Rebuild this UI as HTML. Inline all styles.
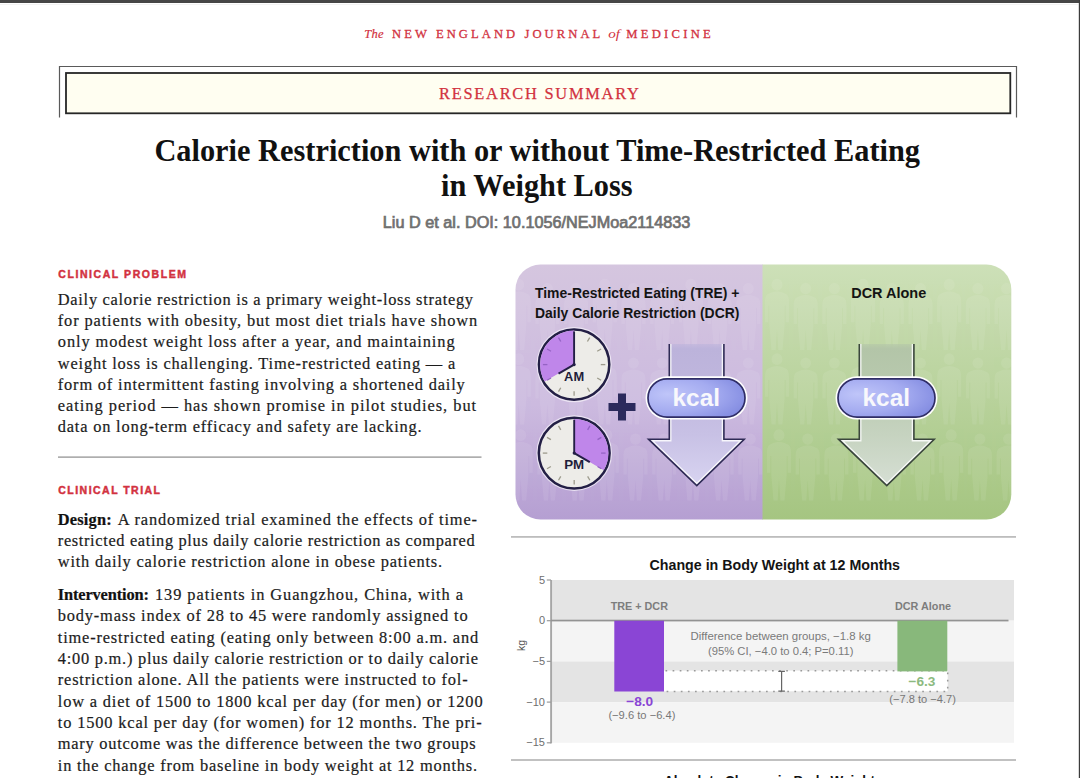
<!DOCTYPE html>
<html><head><meta charset="utf-8"><title>NEJM Research Summary</title>
<style>html,body{margin:0;padding:0;background:#fff;overflow:hidden;width:1080px;height:778px;} svg{display:block;}</style>
</head><body><svg width="1080" height="778" viewBox="0 0 1080 778"><defs><linearGradient id="gp" x1="0" y1="0" x2="0" y2="1">
<stop offset="0" stop-color="#d5c6df"/><stop offset="0.55" stop-color="#ccbadf"/><stop offset="1" stop-color="#b59fd2"/></linearGradient><linearGradient id="gg" x1="0" y1="0" x2="0" y2="1">
<stop offset="0" stop-color="#cde0b8"/><stop offset="1" stop-color="#a5c581"/></linearGradient><g id="person"><ellipse cx="11" cy="6" rx="5" ry="6" fill="#fff"/><path d="M6 14 Q11 12 16 14 L20 16 Q22 18 22 24 L22 44 L19 44 L19 27 L18 27 L18 46 L16 72 L12.3 72 L11 49 L9.7 72 L6 72 L4 46 L4 27 L3 27 L3 44 L0 44 L0 24 Q0 18 2 16 Z" fill="#fff"/></g><clipPath id="panel"><rect x="515.5" y="264.5" width="495.8" height="255" rx="25" ry="25"/></clipPath><radialGradient id="pill" cx="0.3" cy="0.45" r="0.8" fx="0.2" fy="0.4">
<stop offset="0" stop-color="#bfc5f9"/><stop offset="0.55" stop-color="#a4abf0"/><stop offset="1" stop-color="#7f88df"/></radialGradient><linearGradient id="shaftp" gradientUnits="userSpaceOnUse" x1="0" y1="340" x2="0" y2="486">
<stop offset="0" stop-color="#bdb4dc" stop-opacity="0.2"/><stop offset="0.06" stop-color="#bcb3db"/><stop offset="0.3" stop-color="#bfb6dd"/><stop offset="0.65" stop-color="#c8c1e5"/><stop offset="1" stop-color="#d8d4f1"/></linearGradient><linearGradient id="shaftg" gradientUnits="userSpaceOnUse" x1="0" y1="340" x2="0" y2="486">
<stop offset="0" stop-color="#b4c6a9" stop-opacity="0.2"/><stop offset="0.06" stop-color="#b3c5a8"/><stop offset="0.3" stop-color="#b8c9ae"/><stop offset="0.65" stop-color="#c6d3c0"/><stop offset="1" stop-color="#d6dfd4"/></linearGradient></defs><rect x="0" y="0" width="1080" height="778" fill="#ffffff"/><rect x="0" y="0" width="1080" height="3" fill="#464646"/><rect x="0" y="4" width="1078" height="1" fill="#f3f3f3"/><rect x="1078.8" y="0" width="1.2" height="778" fill="#3c3c3c"/><text x="364.2" y="38" font-family="Liberation Serif" font-size="12.5" font-weight="normal" font-style="italic" fill="#d2323f" text-anchor="start" textLength="19.4" lengthAdjust="spacing" stroke="#d2323f" stroke-width="0.2">The</text><text x="392" y="38" font-family="Liberation Serif" font-size="12.6" font-weight="normal" font-style="normal" fill="#d2323f" text-anchor="start" textLength="208.3" lengthAdjust="spacing" stroke="#d2323f" stroke-width="0.3">NEW ENGLAND JOURNAL</text><text x="608.3" y="38" font-family="Liberation Serif" font-size="12.5" font-weight="normal" font-style="italic" fill="#d2323f" text-anchor="start" textLength="11.7" lengthAdjust="spacingAndGlyphs">of</text><text x="626.3" y="38" font-family="Liberation Serif" font-size="12.6" font-weight="normal" font-style="normal" fill="#d2323f" text-anchor="start" textLength="84.5" lengthAdjust="spacing" stroke="#d2323f" stroke-width="0.3">MEDICINE</text><path d="M59.5 117.5 V66.5 H1016.5 V117.5" fill="none" stroke="#5a5a5a" stroke-width="1.2"/><rect x="66" y="73" width="944.3" height="40.3" fill="#fffef1" stroke="#262626" stroke-width="1.8"/><text x="439" y="98.7" font-family="Liberation Serif" font-size="16.4" font-weight="normal" font-style="normal" fill="#d2323f" text-anchor="start" textLength="199.8" lengthAdjust="spacing" stroke="#d2323f" stroke-width="0.25">RESEARCH SUMMARY</text><text x="154.4" y="161" font-family="Liberation Serif" font-size="30.5" font-weight="bold" font-style="normal" fill="#111" text-anchor="start" textLength="765.6" lengthAdjust="spacingAndGlyphs">Calorie Restriction with or without Time-Restricted Eating</text><text x="441" y="195.5" font-family="Liberation Serif" font-size="30.5" font-weight="bold" font-style="normal" fill="#111" text-anchor="start" textLength="191.6" lengthAdjust="spacingAndGlyphs">in Weight Loss</text><text x="382.8" y="227.8" font-family="Liberation Sans" font-size="15.6" font-weight="normal" font-style="normal" fill="#707070" text-anchor="start" textLength="307.5" lengthAdjust="spacingAndGlyphs" stroke="#707070" stroke-width="0.7">Liu D et al. DOI: 10.1056/NEJMoa2114833</text><text x="58.3" y="278.1" font-family="Liberation Sans" font-size="10.5" font-weight="bold" font-style="normal" fill="#d2323f" text-anchor="start" textLength="127.7" lengthAdjust="spacing" stroke="#d2323f" stroke-width="0.45">CLINICAL PROBLEM</text><text x="57.8" y="304.8" font-family="Liberation Serif" font-size="16.4" font-weight="normal" font-style="normal" fill="#1c1c1c" text-anchor="start" textLength="415.2" lengthAdjust="spacing" stroke="#1c1c1c" stroke-width="0.2">Daily calorie restriction is a primary weight-loss strategy</text><text x="57.8" y="326.05" font-family="Liberation Serif" font-size="16.4" font-weight="normal" font-style="normal" fill="#1c1c1c" text-anchor="start" textLength="419.3" lengthAdjust="spacing" stroke="#1c1c1c" stroke-width="0.2">for patients with obesity, but most diet trials have shown</text><text x="57.8" y="347.3" font-family="Liberation Serif" font-size="16.4" font-weight="normal" font-style="normal" fill="#1c1c1c" text-anchor="start" textLength="396.8" lengthAdjust="spacing" stroke="#1c1c1c" stroke-width="0.2">only modest weight loss after a year, and maintaining</text><text x="57.8" y="368.55" font-family="Liberation Serif" font-size="16.4" font-weight="normal" font-style="normal" fill="#1c1c1c" text-anchor="start" textLength="397.4" lengthAdjust="spacing" stroke="#1c1c1c" stroke-width="0.2">weight loss is challenging. Time-restricted eating — a</text><text x="57.8" y="389.8" font-family="Liberation Serif" font-size="16.4" font-weight="normal" font-style="normal" fill="#1c1c1c" text-anchor="start" textLength="407.0" lengthAdjust="spacing" stroke="#1c1c1c" stroke-width="0.2">form of intermittent fasting involving a shortened daily</text><text x="57.8" y="411.05" font-family="Liberation Serif" font-size="16.4" font-weight="normal" font-style="normal" fill="#1c1c1c" text-anchor="start" textLength="418.3" lengthAdjust="spacing" stroke="#1c1c1c" stroke-width="0.2">eating period — has shown promise in pilot studies, but</text><text x="57.8" y="432.3" font-family="Liberation Serif" font-size="16.4" font-weight="normal" font-style="normal" fill="#1c1c1c" text-anchor="start" textLength="363.8" lengthAdjust="spacing" stroke="#1c1c1c" stroke-width="0.2">data on long-term efficacy and safety are lacking.</text><rect x="58" y="456.5" width="423.5" height="1.2" fill="#8c8c8c"/><text x="58.3" y="493.5" font-family="Liberation Sans" font-size="10.5" font-weight="bold" font-style="normal" fill="#d2323f" text-anchor="start" textLength="101.7" lengthAdjust="spacing" stroke="#d2323f" stroke-width="0.45">CLINICAL TRIAL</text><text x="57.8" y="524.6" font-family="Liberation Serif" font-size="16.4" font-weight="bold" font-style="normal" fill="#111" text-anchor="start" textLength="53.9" lengthAdjust="spacing" stroke="#111" stroke-width="0.2">Design:</text><text x="117.8" y="524.6" font-family="Liberation Serif" font-size="16.4" font-weight="normal" font-style="normal" fill="#1c1c1c" text-anchor="start" textLength="359.2" lengthAdjust="spacing" stroke="#1c1c1c" stroke-width="0.2">A randomized trial examined the effects of time-</text><text x="57.8" y="545.9" font-family="Liberation Serif" font-size="16.4" font-weight="normal" font-style="normal" fill="#1c1c1c" text-anchor="start" textLength="416.8" lengthAdjust="spacing" stroke="#1c1c1c" stroke-width="0.2">restricted eating plus daily calorie restriction as compared</text><text x="57.8" y="567.2" font-family="Liberation Serif" font-size="16.4" font-weight="normal" font-style="normal" fill="#1c1c1c" text-anchor="start" textLength="384.2" lengthAdjust="spacing" stroke="#1c1c1c" stroke-width="0.2">with daily calorie restriction alone in obese patients.</text><text x="57.8" y="599.8" font-family="Liberation Serif" font-size="16.4" font-weight="bold" font-style="normal" fill="#111" text-anchor="start" textLength="91.1" lengthAdjust="spacing" stroke="#111" stroke-width="0.2">Intervention:</text><text x="155" y="599.8" font-family="Liberation Serif" font-size="16.4" font-weight="normal" font-style="normal" fill="#1c1c1c" text-anchor="start" textLength="308.0" lengthAdjust="spacing" stroke="#1c1c1c" stroke-width="0.2">139 patients in Guangzhou, China, with a</text><text x="57.8" y="621.15" font-family="Liberation Serif" font-size="16.4" font-weight="normal" font-style="normal" fill="#1c1c1c" text-anchor="start" textLength="409.8" lengthAdjust="spacing" stroke="#1c1c1c" stroke-width="0.2">body-mass index of 28 to 45 were randomly assigned to</text><text x="57.8" y="642.5" font-family="Liberation Serif" font-size="16.4" font-weight="normal" font-style="normal" fill="#1c1c1c" text-anchor="start" textLength="420.3" lengthAdjust="spacing" stroke="#1c1c1c" stroke-width="0.2">time-restricted eating (eating only between 8:00 a.m. and</text><text x="57.8" y="663.85" font-family="Liberation Serif" font-size="16.4" font-weight="normal" font-style="normal" fill="#1c1c1c" text-anchor="start" textLength="420.3" lengthAdjust="spacing" stroke="#1c1c1c" stroke-width="0.2">4:00 p.m.) plus daily calorie restriction or to daily calorie</text><text x="57.8" y="685.2" font-family="Liberation Serif" font-size="16.4" font-weight="normal" font-style="normal" fill="#1c1c1c" text-anchor="start" textLength="409.8" lengthAdjust="spacing" stroke="#1c1c1c" stroke-width="0.2">restriction alone. All the patients were instructed to fol-</text><text x="57.8" y="706.55" font-family="Liberation Serif" font-size="16.4" font-weight="normal" font-style="normal" fill="#1c1c1c" text-anchor="start" textLength="424.8" lengthAdjust="spacing" stroke="#1c1c1c" stroke-width="0.2">low a diet of 1500 to 1800 kcal per day (for men) or 1200</text><text x="57.8" y="727.9" font-family="Liberation Serif" font-size="16.4" font-weight="normal" font-style="normal" fill="#1c1c1c" text-anchor="start" textLength="423.8" lengthAdjust="spacing" stroke="#1c1c1c" stroke-width="0.2">to 1500 kcal per day (for women) for 12 months. The pri-</text><text x="57.8" y="749.25" font-family="Liberation Serif" font-size="16.4" font-weight="normal" font-style="normal" fill="#1c1c1c" text-anchor="start" textLength="417.8" lengthAdjust="spacing" stroke="#1c1c1c" stroke-width="0.2">mary outcome was the difference between the two groups</text><text x="57.8" y="770.6" font-family="Liberation Serif" font-size="16.4" font-weight="normal" font-style="normal" fill="#1c1c1c" text-anchor="start" textLength="419.2" lengthAdjust="spacing" stroke="#1c1c1c" stroke-width="0.2">in the change from baseline in body weight at 12 months.</text><g clip-path="url(#panel)"><rect x="515" y="264" width="248" height="256" fill="url(#gp)"/><rect x="762.5" y="264" width="250" height="256" fill="url(#gg)"/><use href="#person" transform="translate(506.7 278.7) scale(1.09 0.99)" opacity="0.075"/><use href="#person" transform="translate(535.4 283.0) scale(1.09 0.93)" opacity="0.075"/><use href="#person" transform="translate(564.1 283.0) scale(1.09 0.93)" opacity="0.075"/><use href="#person" transform="translate(592.8 278.7) scale(1.09 0.99)" opacity="0.075"/><use href="#person" transform="translate(621.5 283.0) scale(1.09 0.93)" opacity="0.075"/><use href="#person" transform="translate(650.2 283.0) scale(1.09 0.93)" opacity="0.075"/><use href="#person" transform="translate(678.9 278.7) scale(1.09 0.99)" opacity="0.075"/><use href="#person" transform="translate(707.6 283.0) scale(1.09 0.93)" opacity="0.075"/><use href="#person" transform="translate(736.3 283.0) scale(1.09 0.93)" opacity="0.075"/><use href="#person" transform="translate(765.0 278.7) scale(1.09 0.99)" opacity="0.075"/><use href="#person" transform="translate(793.7 283.0) scale(1.09 0.93)" opacity="0.075"/><use href="#person" transform="translate(822.4 283.0) scale(1.09 0.93)" opacity="0.075"/><use href="#person" transform="translate(851.1 278.7) scale(1.09 0.99)" opacity="0.075"/><use href="#person" transform="translate(879.8 283.0) scale(1.09 0.93)" opacity="0.075"/><use href="#person" transform="translate(908.5 283.0) scale(1.09 0.93)" opacity="0.075"/><use href="#person" transform="translate(937.2 278.7) scale(1.09 0.99)" opacity="0.075"/><use href="#person" transform="translate(965.9 283.0) scale(1.09 0.93)" opacity="0.075"/><use href="#person" transform="translate(994.6 283.0) scale(1.09 0.93)" opacity="0.075"/><use href="#person" transform="translate(506.7 353.2) scale(1.09 0.99)" opacity="0.075"/><use href="#person" transform="translate(535.4 357.5) scale(1.09 0.93)" opacity="0.075"/><use href="#person" transform="translate(564.1 357.5) scale(1.09 0.93)" opacity="0.075"/><use href="#person" transform="translate(592.8 353.2) scale(1.09 0.99)" opacity="0.075"/><use href="#person" transform="translate(621.5 357.5) scale(1.09 0.93)" opacity="0.075"/><use href="#person" transform="translate(650.2 357.5) scale(1.09 0.93)" opacity="0.075"/><use href="#person" transform="translate(678.9 353.2) scale(1.09 0.99)" opacity="0.075"/><use href="#person" transform="translate(707.6 357.5) scale(1.09 0.93)" opacity="0.075"/><use href="#person" transform="translate(736.3 357.5) scale(1.09 0.93)" opacity="0.075"/><use href="#person" transform="translate(765.0 353.2) scale(1.09 0.99)" opacity="0.075"/><use href="#person" transform="translate(793.7 357.5) scale(1.09 0.93)" opacity="0.075"/><use href="#person" transform="translate(822.4 357.5) scale(1.09 0.93)" opacity="0.075"/><use href="#person" transform="translate(851.1 353.2) scale(1.09 0.99)" opacity="0.075"/><use href="#person" transform="translate(879.8 357.5) scale(1.09 0.93)" opacity="0.075"/><use href="#person" transform="translate(908.5 357.5) scale(1.09 0.93)" opacity="0.075"/><use href="#person" transform="translate(937.2 353.2) scale(1.09 0.99)" opacity="0.075"/><use href="#person" transform="translate(965.9 357.5) scale(1.09 0.93)" opacity="0.075"/><use href="#person" transform="translate(994.6 357.5) scale(1.09 0.93)" opacity="0.075"/><use href="#person" transform="translate(508.7 429.2) scale(1.09 0.99)" opacity="0.075"/><use href="#person" transform="translate(537.4 433.5) scale(1.09 0.93)" opacity="0.075"/><use href="#person" transform="translate(566.1 433.5) scale(1.09 0.93)" opacity="0.075"/><use href="#person" transform="translate(594.8 429.2) scale(1.09 0.99)" opacity="0.075"/><use href="#person" transform="translate(623.5 433.5) scale(1.09 0.93)" opacity="0.075"/><use href="#person" transform="translate(652.2 433.5) scale(1.09 0.93)" opacity="0.075"/><use href="#person" transform="translate(680.9 429.2) scale(1.09 0.99)" opacity="0.075"/><use href="#person" transform="translate(709.6 433.5) scale(1.09 0.93)" opacity="0.075"/><use href="#person" transform="translate(738.3 433.5) scale(1.09 0.93)" opacity="0.075"/><use href="#person" transform="translate(767.0 429.2) scale(1.09 0.99)" opacity="0.075"/><use href="#person" transform="translate(795.7 433.5) scale(1.09 0.93)" opacity="0.075"/><use href="#person" transform="translate(824.4 433.5) scale(1.09 0.93)" opacity="0.075"/><use href="#person" transform="translate(853.1 429.2) scale(1.09 0.99)" opacity="0.075"/><use href="#person" transform="translate(881.8 433.5) scale(1.09 0.93)" opacity="0.075"/><use href="#person" transform="translate(910.5 433.5) scale(1.09 0.93)" opacity="0.075"/><use href="#person" transform="translate(939.2 429.2) scale(1.09 0.99)" opacity="0.075"/><use href="#person" transform="translate(967.9 433.5) scale(1.09 0.93)" opacity="0.075"/><use href="#person" transform="translate(996.6 433.5) scale(1.09 0.93)" opacity="0.075"/></g><text x="535" y="297.6" font-family="Liberation Sans" font-size="14.6" font-weight="bold" font-style="normal" fill="#141414" text-anchor="start" textLength="204.4" lengthAdjust="spacingAndGlyphs">Time-Restricted Eating (TRE) +</text><text x="535" y="318" font-family="Liberation Sans" font-size="14.6" font-weight="bold" font-style="normal" fill="#141414" text-anchor="start" textLength="204.4" lengthAdjust="spacingAndGlyphs">Daily Calorie Restriction (DCR)</text><text x="851.2" y="297.8" font-family="Liberation Sans" font-size="14.6" font-weight="bold" font-style="normal" fill="#141414" text-anchor="start" textLength="75" lengthAdjust="spacingAndGlyphs">DCR Alone</text><circle cx="574.1" cy="364.6" r="36.800000000000004" fill="none" stroke="#f2eef8" stroke-opacity="0.8" stroke-width="1.6"/><circle cx="574.1" cy="364.6" r="35.2" fill="#edece8" stroke="#231f45" stroke-width="2.5"/><path d="M574.1 364.6 L544.66 381.60 A34.0 34.0 0 0 1 574.10 330.60 Z" fill="#bf86ea"/><line x1="589.70" y1="337.58" x2="587.45" y2="341.48" stroke="#9d9b8c" stroke-width="1.3"/><line x1="601.12" y1="349.00" x2="597.22" y2="351.25" stroke="#9d9b8c" stroke-width="1.3"/><line x1="605.30" y1="364.60" x2="600.80" y2="364.60" stroke="#9d9b8c" stroke-width="1.3"/><line x1="601.12" y1="380.20" x2="597.22" y2="377.95" stroke="#9d9b8c" stroke-width="1.3"/><line x1="589.70" y1="391.62" x2="587.45" y2="387.72" stroke="#9d9b8c" stroke-width="1.3"/><line x1="574.10" y1="395.80" x2="574.10" y2="391.30" stroke="#9d9b8c" stroke-width="1.3"/><line x1="558.50" y1="391.62" x2="560.75" y2="387.72" stroke="#9d9b8c" stroke-width="1.3"/><line x1="547.08" y1="380.20" x2="550.98" y2="377.95" stroke="#9563c4" stroke-width="1.3"/><line x1="542.90" y1="364.60" x2="547.40" y2="364.60" stroke="#9563c4" stroke-width="1.3"/><line x1="547.08" y1="349.00" x2="550.98" y2="351.25" stroke="#9563c4" stroke-width="1.3"/><line x1="558.50" y1="337.58" x2="560.75" y2="341.48" stroke="#9563c4" stroke-width="1.3"/><line x1="574.1" y1="364.6" x2="574.1" y2="331.40000000000003" stroke="#231f45" stroke-width="1.9"/><line x1="574.1" y1="364.6" x2="558.51" y2="373.60" stroke="#231f45" stroke-width="2"/><circle cx="574.1" cy="364.6" r="1.6" fill="#231f45"/><text x="574.1" y="380.90000000000003" font-family="Liberation Sans" font-size="12.4" font-weight="bold" font-style="normal" fill="#1f1d3a" text-anchor="middle" textLength="20" lengthAdjust="spacingAndGlyphs">AM</text><circle cx="574.2" cy="453.1" r="37.0" fill="none" stroke="#f2eef8" stroke-opacity="0.8" stroke-width="1.6"/><circle cx="574.2" cy="453.1" r="35.4" fill="#edece8" stroke="#231f45" stroke-width="2.5"/><path d="M574.2 453.1 L574.20 418.90 A34.199999999999996 34.199999999999996 0 0 1 603.82 470.20 Z" fill="#bf86ea"/><line x1="589.90" y1="425.91" x2="587.65" y2="429.80" stroke="#9563c4" stroke-width="1.3"/><line x1="601.39" y1="437.40" x2="597.50" y2="439.65" stroke="#9563c4" stroke-width="1.3"/><line x1="605.60" y1="453.10" x2="601.10" y2="453.10" stroke="#9563c4" stroke-width="1.3"/><line x1="601.39" y1="468.80" x2="597.50" y2="466.55" stroke="#9563c4" stroke-width="1.3"/><line x1="589.90" y1="480.29" x2="587.65" y2="476.40" stroke="#9d9b8c" stroke-width="1.3"/><line x1="574.20" y1="484.50" x2="574.20" y2="480.00" stroke="#9d9b8c" stroke-width="1.3"/><line x1="558.50" y1="480.29" x2="560.75" y2="476.40" stroke="#9d9b8c" stroke-width="1.3"/><line x1="547.01" y1="468.80" x2="550.90" y2="466.55" stroke="#9d9b8c" stroke-width="1.3"/><line x1="542.80" y1="453.10" x2="547.30" y2="453.10" stroke="#9d9b8c" stroke-width="1.3"/><line x1="547.01" y1="437.40" x2="550.90" y2="439.65" stroke="#9d9b8c" stroke-width="1.3"/><line x1="558.50" y1="425.91" x2="560.75" y2="429.80" stroke="#9d9b8c" stroke-width="1.3"/><line x1="574.2" y1="453.1" x2="574.2" y2="419.70000000000005" stroke="#231f45" stroke-width="1.9"/><line x1="574.2" y1="453.1" x2="589.79" y2="462.10" stroke="#231f45" stroke-width="2"/><circle cx="574.2" cy="453.1" r="1.6" fill="#231f45"/><text x="574.2" y="469.40000000000003" font-family="Liberation Sans" font-size="12.4" font-weight="bold" font-style="normal" fill="#1f1d3a" text-anchor="middle" textLength="20" lengthAdjust="spacingAndGlyphs">PM</text><path d="M618 393.5 h8 v9.5 h9.5 v8 h-9.5 v9.5 h-8 v-9.5 h-9.5 v-8 h9.5 z" fill="#2b2a5c"/><clipPath id="ac0"><path d="M669.3 344 V439.2 H648.5 L696.8 485.6 L744.2 439.2 H723.9 V344 Z"/></clipPath><path d="M669.3 344 V439.2 H648.5 L696.8 485.6 L744.2 439.2 H723.9 V344 Z" fill="url(#shaftp)"/><path d="M669.3 344 V439.2 H648.5 L696.8 485.6 L744.2 439.2 H723.9 V344" fill="none" stroke="#ffffff" stroke-opacity="0.85" stroke-width="4.4" clip-path="url(#ac0)"/><path d="M669.3 344 V439.2 H648.5 L696.8 485.6 L744.2 439.2 H723.9 V344" fill="none" stroke="#2e2a55" stroke-width="1.6"/><rect x="645.5" y="376.3" width="102" height="43.3" rx="21.6" fill="#ffffff"/><rect x="648" y="378.8" width="97" height="38.3" rx="19.1" fill="url(#pill)" stroke="#2f2d66" stroke-width="1.7"/><text x="696.3" y="405.8" font-family="Liberation Sans" font-size="23.5" font-weight="bold" font-style="normal" fill="#f8f8fc" text-anchor="middle" textLength="47.5" lengthAdjust="spacingAndGlyphs">kcal</text><clipPath id="ac190"><path d="M859.3 344 V439.2 H838.5 L886.8 485.6 L934.2 439.2 H913.9 V344 Z"/></clipPath><path d="M859.3 344 V439.2 H838.5 L886.8 485.6 L934.2 439.2 H913.9 V344 Z" fill="url(#shaftg)"/><path d="M859.3 344 V439.2 H838.5 L886.8 485.6 L934.2 439.2 H913.9 V344" fill="none" stroke="#ffffff" stroke-opacity="0.85" stroke-width="4.4" clip-path="url(#ac190)"/><path d="M859.3 344 V439.2 H838.5 L886.8 485.6 L934.2 439.2 H913.9 V344" fill="none" stroke="#3a463c" stroke-width="1.6"/><rect x="835.5" y="376.3" width="102" height="43.3" rx="21.6" fill="#ffffff"/><rect x="838" y="378.8" width="97" height="38.3" rx="19.1" fill="url(#pill)" stroke="#2f2d66" stroke-width="1.7"/><text x="886.3" y="405.8" font-family="Liberation Sans" font-size="23.5" font-weight="bold" font-style="normal" fill="#f8f8fc" text-anchor="middle" textLength="47.5" lengthAdjust="spacingAndGlyphs">kcal</text><rect x="511" y="536" width="505" height="1.8" fill="#bdbdbd"/><rect x="511" y="759.4" width="505" height="1.2" fill="#999999"/><text x="649.5" y="569.5" font-family="Liberation Sans" font-size="15" font-weight="bold" font-style="normal" fill="#141414" text-anchor="start" textLength="250.5" lengthAdjust="spacingAndGlyphs">Change in Body Weight at 12 Months</text><rect x="551" y="580.0" width="463" height="40.7" fill="#e4e4e4"/><rect x="551" y="620.7" width="463" height="40.7" fill="#f4f4f4"/><rect x="551" y="661.4" width="463" height="40.7" fill="#e4e4e4"/><rect x="551" y="702.1" width="463" height="40.7" fill="#f4f4f4"/><line x1="551.1" y1="580.0" x2="551.1" y2="743.4" stroke="#a6a6a6" stroke-width="1.9"/><line x1="546.8" y1="580.0" x2="551" y2="580.0" stroke="#9a9a9a" stroke-width="1.2"/><text x="545" y="583.6" font-family="Liberation Sans" font-size="11" font-weight="normal" font-style="normal" fill="#6e6e6e" text-anchor="end">5</text><line x1="546.8" y1="620.7" x2="551" y2="620.7" stroke="#9a9a9a" stroke-width="1.2"/><text x="545" y="624.3" font-family="Liberation Sans" font-size="11" font-weight="normal" font-style="normal" fill="#6e6e6e" text-anchor="end">0</text><line x1="546.8" y1="661.4" x2="551" y2="661.4" stroke="#9a9a9a" stroke-width="1.2"/><text x="545" y="665.0" font-family="Liberation Sans" font-size="11" font-weight="normal" font-style="normal" fill="#6e6e6e" text-anchor="end">−5</text><line x1="546.8" y1="702.1" x2="551" y2="702.1" stroke="#9a9a9a" stroke-width="1.2"/><text x="545" y="705.7" font-family="Liberation Sans" font-size="11" font-weight="normal" font-style="normal" fill="#6e6e6e" text-anchor="end">−10</text><line x1="546.8" y1="742.8" x2="551" y2="742.8" stroke="#9a9a9a" stroke-width="1.2"/><text x="545" y="746.4" font-family="Liberation Sans" font-size="11" font-weight="normal" font-style="normal" fill="#6e6e6e" text-anchor="end">−15</text><text x="525.1" y="645.4" font-family="Liberation Sans" font-size="10.5" font-weight="normal" font-style="normal" fill="#555555" text-anchor="middle" transform="rotate(-90 525.1 645.4)">kg</text><rect x="551" y="619.7" width="457.5" height="1.7" fill="#939393"/><text x="639.3" y="609.6" font-family="Liberation Sans" font-size="10.8" font-weight="bold" font-style="normal" fill="#7d7d7d" text-anchor="middle">TRE + DCR</text><text x="923" y="609.7" font-family="Liberation Sans" font-size="10.8" font-weight="bold" font-style="normal" fill="#7d7d7d" text-anchor="middle">DCR Alone</text><rect x="664" y="670.6" width="283.7" height="20.7" fill="#ffffff"/><path d="M665.5 670.8 H947.7 V691.4 H665.5" fill="none" stroke="#9a9a9a" stroke-width="1.5" stroke-dasharray="1.7 5.4"/><rect x="614.3" y="620.7" width="49.7" height="70.8" fill="#8a45d5"/><rect x="897.4" y="620.7" width="49.9" height="50.7" fill="#88b87b"/><path d="M781.6 671.3 V691.2 M778.3 671.3 H784.9 M778.3 691.2 H784.9" stroke="#666" stroke-width="1.2" fill="none"/><text x="780.7" y="640" font-family="Liberation Sans" font-size="11.5" font-weight="normal" font-style="normal" fill="#7a7a7a" text-anchor="middle" textLength="180.3" lengthAdjust="spacingAndGlyphs">Difference between groups, −1.8 kg</text><text x="780.7" y="655.4" font-family="Liberation Sans" font-size="11.5" font-weight="normal" font-style="normal" fill="#7a7a7a" text-anchor="middle" textLength="145.5" lengthAdjust="spacingAndGlyphs">(95% CI, −4.0 to 0.4; P=0.11)</text><text x="639.7" y="705.8" font-family="Liberation Sans" font-size="13.6" font-weight="bold" font-style="normal" fill="#8a45d5" text-anchor="middle" textLength="27" lengthAdjust="spacingAndGlyphs">−8.0</text><text x="641.9" y="718.9" font-family="Liberation Sans" font-size="11.2" font-weight="normal" font-style="normal" fill="#777" text-anchor="middle" textLength="67" lengthAdjust="spacingAndGlyphs">(−9.6 to −6.4)</text><text x="921.9" y="685.5" font-family="Liberation Sans" font-size="13.6" font-weight="bold" font-style="normal" fill="#8cba7f" text-anchor="middle" textLength="27" lengthAdjust="spacingAndGlyphs">−6.3</text><text x="922.6" y="702.6" font-family="Liberation Sans" font-size="11.2" font-weight="normal" font-style="normal" fill="#777" text-anchor="middle" textLength="66.5" lengthAdjust="spacingAndGlyphs">(−7.8 to −4.7)</text><text x="664" y="786" font-family="Liberation Sans" font-size="15" font-weight="bold" font-style="normal" fill="#141414" text-anchor="start" textLength="211" lengthAdjust="spacingAndGlyphs">Absolute Change in Body Weight</text></svg></body></html>
